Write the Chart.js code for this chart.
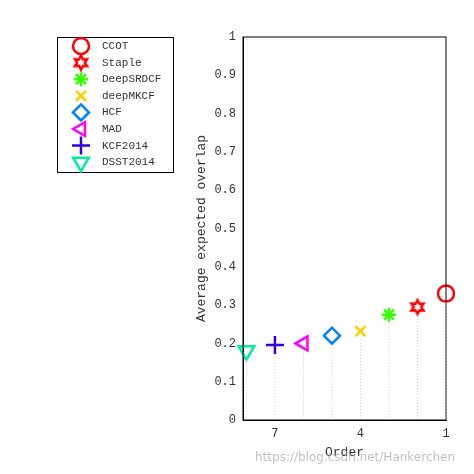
<!DOCTYPE html>
<html><head><meta charset="utf-8">
<script src="https://cdn.jsdelivr.net/npm/chart.js@4"></script>
<style>html,body{margin:0;background:#fff}#wrap{width:474px;height:474px}</style>
</head><body><div id="wrap"><canvas id="c" width="474" height="474"></canvas></div>
<script>
const trackers = ['CCOT','Staple','DeepSRDCF','deepMKCF','HCF','MAD','KCF2014','DSST2014'];
const orders = [1,2,3,4,5,6,7,8];
const overlaps = [0.33,0.295,0.275,0.232,0.22,0.2,0.196,0.181];
const colors = ['#ff0000','#ff0000','#33ff00','#ffcc00','#0080ff','#ff00ff','#3300dd','#00ee99'];
const xTicks = [7,4,1];

// hexagram for Staple
function hexagram(color) {
  const c = document.createElement('canvas'); c.width = 18; c.height = 18;
  const g = c.getContext('2d'); g.strokeStyle = color; g.lineWidth = 2.5;
  g.beginPath();
  for (let i = 0; i < 12; i++) {
    const r = i % 2 ? 3.8 : 7, a = -Math.PI/2 + i*Math.PI/6;
    const x = 9 + r*Math.cos(a), y = 9 + r*Math.sin(a);
    i ? g.lineTo(x,y) : g.moveTo(x,y);
  }
  g.closePath(); g.stroke();
  return c;
}
const styles = ['circle', hexagram('#ff0000'), 'star', 'crossRot', 'rectRot', 'triangle', 'cross', 'triangle'];
const rots = [0,0,0,0,0,-90,0,180];
const radii = [8,7,7,7,8,8,9,9];

const font = '"Liberation Mono", monospace';
const none = 'rgba(0,0,0,0)';

const extras = {
  id: 'extras',
  afterDatasetsDraw(chart) {
    const {ctx, chartArea: a, scales: {x, y}} = chart;
    ctx.save();
    ctx.strokeStyle = '#000'; ctx.lineWidth = 1;
    ctx.strokeRect(a.left, a.top, a.right - a.left, a.bottom - a.top);
    // dotted stems
    ctx.strokeStyle = '#cccccc'; ctx.setLineDash([1,2]);
    orders.forEach((o, i) => {
      const px = x.getPixelForValue(o);
      ctx.beginPath(); ctx.moveTo(px, y.getPixelForValue(overlaps[i]) + 9); ctx.lineTo(px, a.bottom); ctx.stroke();
    });
    ctx.setLineDash([]);
    // legend
    ctx.fillStyle = '#fff'; ctx.strokeStyle = '#000';
    ctx.fillRect(57, 37, 116, 135); ctx.strokeRect(57.5, 37.5, 116, 135);
    ctx.font = '11px ' + font; ctx.textBaseline = 'middle';
    trackers.forEach((t, i) => {
      const ly = 46 + i*16.6;
      ctx.lineWidth = 2.5;
      ctx.strokeStyle = colors[i]; ctx.fillStyle = none;
      Chart.helpers.drawPoint(ctx, {pointStyle: styles[i], radius: radii[i], rotation: rots[i], borderWidth: 2.5}, 81, ly);
      ctx.fillStyle = '#333'; ctx.fillText(t, 102, ly);
    });
    ctx.fillStyle = 'rgba(150,150,150,0.6)'; ctx.font = '12px "DejaVu Sans"';
    ctx.fillText('https://blog.csdn.net/Hankerchen', 255, 458);
    ctx.restore();
  }
};

new Chart(document.getElementById('c'), {
  type: 'scatter',
  data: {
    datasets: trackers.map((t, i) => ({
      label: t,
      data: [{x: orders[i], y: overlaps[i]}],
      pointStyle: styles[i], rotation: rots[i], pointRadius: radii[i],
      borderColor: colors[i], backgroundColor: none, borderWidth: 2.5,
      clip: false
    }))
  },
  options: {
    responsive: false, animation: false,
    layout: {padding: {left: 190, right: 28, top: 37, bottom: 14}},
    plugins: {legend: {display: false}, tooltip: {enabled: false}},
    scales: {
      x: {
        type: 'linear', reverse: true, min: 1, max: 8.12,
        afterBuildTicks: s => { s.ticks = xTicks.map(v => ({value: v})); },
        grid: {display: false, tickLength: 4},
        border: {color: '#000'},
        ticks: {color: '#333', font: {family: font, size: 12}, maxRotation: 0},
        title: {display: true, text: 'Order', color: '#333', font: {family: font, size: 13}, padding: 0}
      },
      y: {
        min: 0, max: 1,
        afterFit: s => { s.width = 53; },
        grid: {display: false, tickLength: 4},
        border: {color: '#000'},
        ticks: {stepSize: 0.1, color: '#333', font: {family: font, size: 12}, callback: v => Math.round(v*10)/10},
        title: {display: true, text: 'Average expected overlap', color: '#333', font: {family: font, size: 13}, padding: 4}
      }
    }
  },
  plugins: [extras]
});
</script></body></html>
